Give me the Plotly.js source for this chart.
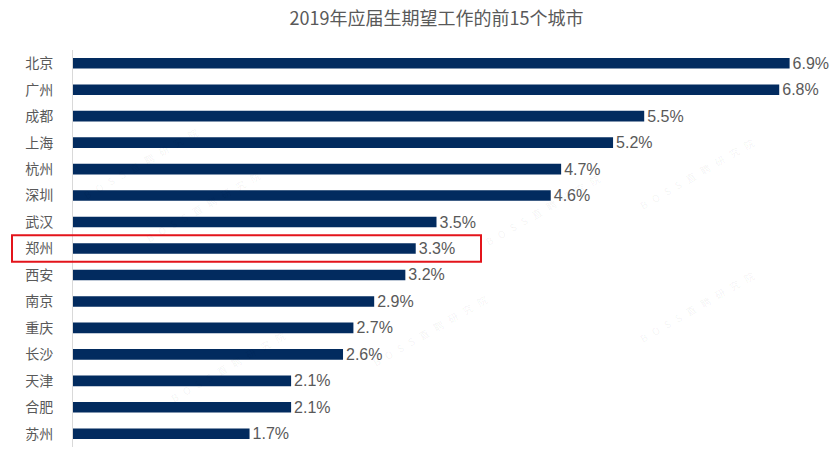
<!DOCTYPE html>
<html>
<head>
<meta charset="utf-8">
<script src="https://cdn.plot.ly/plotly-3.0.1.min.js"></script>
<style>
  html, body { margin: 0; padding: 0; background: #ffffff; }
  #chart { width: 834px; height: 450px; }
</style>
</head>
<body>
<div id="chart"></div>
<script>
// Top 15 cities where 2019 graduates expect to work (share, %)
const cities = ['北京', '广州', '成都', '上海', '杭州', '深圳', '武汉', '郑州',
                '西安', '南京', '重庆', '长沙', '天津', '合肥', '苏州'];
const shares = [6.9, 6.8, 5.5, 5.2, 4.7, 4.6, 3.5, 3.3, 3.2, 2.9, 2.7, 2.6, 2.1, 2.1, 1.7];
const valueLabels = shares.map(v => v.toFixed(1) + '%');
const highlightCity = '郑州';
const chartTitle = '2019年应届生期望工作的前15个城市';
const watermarkGlyphs = ['B', 'O', 'S', 'S', '直', '聘', '研', '究', '院'];

const W = 834, H = 450;
const M = { l: 73, r: 34, t: 50, b: 3 };
const plotW = W - M.l - M.r, plotH = H - M.t - M.b;
const px = x => (x - M.l) / plotW;
const py = y => 1 - (y - M.t) / plotH;

const FONT = 'Liberation Sans, Arial, "Noto Sans CJK SC", sans-serif';

// faint diagonal brand watermarks, letter-spaced
const gap = '\u00a0\u00a0\u00a0';
const watermarkText = watermarkGlyphs.join(gap);
const marks = [[78, 122], [140, 206], [606, 210], [430, 372], [165, 408], [760, 132], [760, 348]];
const watermarks = marks.map(([x, y]) => ({
  xref: 'paper', yref: 'paper', x: px(x), y: py(y),
  text: watermarkText, showarrow: false, textangle: -30,
  font: { family: '"Noto Sans CJK SC", sans-serif', size: 10, color: 'rgba(0,0,0,0.06)' }
}));

const hi = cities.indexOf(highlightCity);

const trace = {
  type: 'bar',
  orientation: 'h',
  y: cities,
  x: shares,
  text: valueLabels,
  textposition: 'outside',
  constraintext: 'none',
  cliponaxis: false,
  textfont: { family: FONT, size: 16, color: '#595959' },
  marker: { color: '#022b5f' },
  hoverinfo: 'none'
};

const layout = {
  width: W, height: H,
  margin: M,
  paper_bgcolor: '#ffffff',
  plot_bgcolor: '#ffffff',
  showlegend: false,
  bargap: 0.6,
  title: {
    text: chartTitle,
    font: { family: '"Noto Sans CJK SC", sans-serif', size: 18, color: '#595959' },
    xref: 'paper', x: 0.5, xanchor: 'center',
    yref: 'container', y: 1 - 19 / H, yanchor: 'middle'
  },
  xaxis: {
    range: [0, 7.0],
    showgrid: false, zeroline: false, showline: false,
    showticklabels: false, ticks: '', fixedrange: true
  },
  yaxis: {
    type: 'category',
    autorange: 'reversed',
    showgrid: false, zeroline: false,
    showline: true, linecolor: '#d9d9d9', linewidth: 1,
    ticks: '', ticklabelstandoff: 16,
    tickfont: { family: '"Noto Sans CJK SC", sans-serif', size: 14, color: '#595959' },
    fixedrange: true
  },
  shapes: [{
    type: 'rect',
    xref: 'paper', yref: 'y',
    x0: px(12), x1: px(481),
    y0: hi - 0.5, y1: hi + 0.5,
    line: { color: '#e3141b', width: 2 },
    fillcolor: 'rgba(0,0,0,0)'
  }],
  annotations: watermarks
};

Plotly.newPlot('chart', [trace], layout, { displayModeBar: false, staticPlot: true });
</script>
</body>
</html>
